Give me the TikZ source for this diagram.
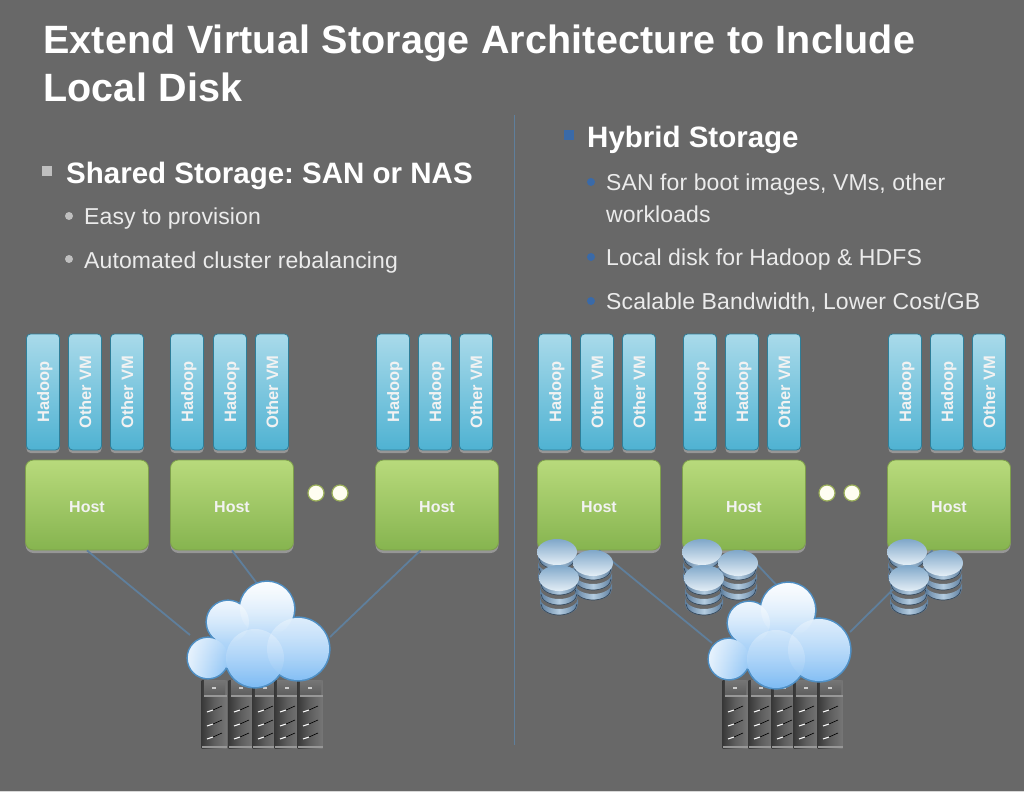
\documentclass[tikz,border=0pt]{standalone}
\usepackage{fontspec}
\setmainfont{Liberation Sans}
\usetikzlibrary{shadows,fadings}
\definecolor{slidebg}{HTML}{686868}
\definecolor{stripgrey}{HTML}{D8D8D8}
\definecolor{linkblue}{HTML}{5F7F9C}
\definecolor{bulletblue}{HTML}{3A6AA8}
\definecolor{shadowgrey}{HTML}{969696}
\definecolor{vmtop}{HTML}{A9DAEA}
\definecolor{vmlow}{HTML}{4FB2D2}
\definecolor{vmedge}{HTML}{2F7E98}
\definecolor{hosttop}{HTML}{B8DA7C}
\definecolor{hostlow}{HTML}{86B44F}
\definecolor{hostedge}{HTML}{7E9F4C}
\definecolor{dotedge}{HTML}{9BAF5A}
\definecolor{disktop}{HTML}{E4EEF6}
\definecolor{diskhead}{HTML}{7FA7C9}
\definecolor{diskpale}{HTML}{B4CCE0}
\definecolor{diskdark}{HTML}{5E7F9F}
\definecolor{diskgap}{HTML}{34475A}
\definecolor{rackdark}{HTML}{383838}
\definecolor{rackmid}{HTML}{5E5E5E}
\definecolor{racklow}{HTML}{767676}
\definecolor{rackpale}{HTML}{989898}
\definecolor{cloudedge}{HTML}{4F8FC4}
\definecolor{cloudhi}{HTML}{F4F9FE}
\definecolor{cloudmid}{HTML}{C6E0FA}
\definecolor{cloudlow}{HTML}{7DBBF4}
\tikzset{
  vmbox/.style={rounded corners=4pt,draw=vmedge,line width=0.8pt,rotate=90,minimum width=116pt,minimum height=33pt,inner sep=0pt,
    text height=12pt,text depth=0pt,top color=vmtop,bottom color=vmlow,text=white!95!black,font=\fontsize{16.5}{18}\selectfont\bfseries,
    general shadow={fill=shadowgrey,shadow xshift=0pt,shadow yshift=-3pt}},
  hostbox/.style={rounded corners=8pt,draw=hostedge,line width=0.8pt,minimum width=123pt,minimum height=90pt,inner sep=0pt,
    text height=14pt,text depth=0pt,top color=hosttop,bottom color=hostlow,text=white!95!black,font=\fontsize{16}{18}\selectfont\bfseries,
    general shadow={fill=shadowgrey,shadow xshift=0pt,shadow yshift=-3pt}},
  dotball/.style={circle,draw=dotedge,line width=1.2pt,fill=white!95!yellow,minimum size=16pt,inner sep=0pt},
  link/.style={draw=linkblue,line width=1.8pt},
  headtext/.style={anchor=base west,inner sep=0pt,text=white,font=\fontsize{39.5}{40}\selectfont\bfseries\addfontfeature{LetterSpace=0.5}},
  subhead/.style={anchor=base west,inner sep=0pt,text=white,font=\fontsize{29.5}{30}\selectfont\bfseries\frenchspacing},
  bodytext/.style={anchor=base west,inner sep=0pt,text=white!92!black,font=\fontsize{23}{26}\selectfont\addfontfeature{LetterSpace=0.5}},
  bigbullet/.style={minimum size=10pt,inner sep=0pt,fill=#1},
  smallbullet/.style={circle,minimum size=8pt,inner sep=0pt,fill=#1},
  disk/.pic={
    % three platters, lowest first
    \foreach \y in {20,10,0} {
      \shade[left color=diskdark,right color=diskdark,middle color=diskpale] (-19,\y) arc (180:0:19 and 11) -- ++(0,6) arc (0:180:19 and 11) -- cycle;
      \draw[diskgap,line width=0.7pt] (-18,\y+6) arc (180:0:18 and 11);
    }
    \shade[top color=diskhead,bottom color=disktop] (0,0) ellipse (20 and 13);
  },
  rack/.pic={
    \shade[left color=rackdark,right color=racklow,middle color=rackmid] (-12.5,0) rectangle (12.5,68);
    \shade[top color=racklow,bottom color=rackmid] (-10,0) rectangle (11,15);
    \fill[rackpale] (-10,15) rectangle (12.5,17);
    \fill[rackpale] (-12.5,66) rectangle (12.5,68);
    \foreach \y in {32,46,59} {
      \draw[white,line width=1pt] (-7,\y) -- (-1,\y-2);
      \draw[black,line width=0.6pt] (-1,\y-2) -- (8,\y-6);
    }
    \fill[white!80!black] (-2,7) rectangle (2,9);
  },
  cloud/.pic={
    % outline first, then one gradient over all the bumps
    \fill[cloudedge] (-50,18) circle (21.6) (-30,-18) circle (22.6) (9,-31) circle (28.6) (40,9) circle (32.6) (-3,18) circle (30.6) (0,12) ellipse (50 and 21);
    \shade[top color=cloudhi,middle color=cloudmid,bottom color=cloudlow] (-50,18) circle (20) (-30,-18) circle (21) (9,-31) circle (27) (40,9) circle (31) (-3,18) circle (29) (0,12) ellipse (50 and 20) (-5,5) ellipse (36 and 30);
    % soft highlights
    \fill[white,path fading=east,opacity=.75] (-50,18) circle (20);
    \fill[white,path fading=south,opacity=.5] (-30,-18) circle (21);
    \fill[white,path fading=south,opacity=.6] (9,-31) circle (27);
    \fill[white,path fading=south,opacity=.35] (40,9) circle (31);
    \fill[white,path fading=south,opacity=.3] (-3,18) circle (29);
  }
}
\begin{document}
\begin{tikzpicture}[x=1pt,y=-1pt]
\useasboundingbox (0,0) rectangle (1024,792);
\fill[slidebg] (0,0) rectangle (1024,792);
\fill[stripgrey] (0,790.7) rectangle (1024,792);

% Title
\node[headtext] (titleA) at (43,53) {Extend Virtual Storage Architecture to Include};
\node[headtext] (titleB) at (43,101) {Local Disk};

% Divider
\coordinate (divtop) at (514,115);
\coordinate (divbot) at (514,745);
\draw[linkblue,line width=1pt] (divtop) -- (divbot);

% Left text
\node[bigbullet=white!75!black] (bulletL) at (47,171) {};
\node[subhead] (headL) at (66,183) {Shared Storage: SAN or NAS};
\node[smallbullet=white!75!black] (dotLa) at (69,216) {};
\node[bodytext] (easy) at (84,224) {Easy to provision};
\node[smallbullet=white!75!black] (dotLb) at (69,259) {};
\node[bodytext] (auto) at (84,268) {Automated cluster rebalancing};

% Right text
\node[bigbullet=bulletblue] (bulletR) at (569,135) {};
\node[subhead] (headR) at (587,147) {Hybrid Storage};
\node[smallbullet=bulletblue] (dotRa) at (591,182) {};
\node[bodytext] (sanA) at (606,190) {SAN for boot images, VMs, other};
\node[bodytext] (sanB) at (606,222) {workloads};
\node[smallbullet=bulletblue] (dotRb) at (591,257) {};
\node[bodytext] (local) at (606,265) {Local disk for Hadoop \& HDFS};
\node[smallbullet=bulletblue] (dotRc) at (591,301) {};
\node[bodytext] (scale) at (606,309) {Scalable Bandwidth, Lower Cost/GB};

% Hosts
\foreach \name/\x in {hostA/87,hostB/232,hostC/437,hostD/599,hostE/744,hostF/949} {
  \node[hostbox] (\name) at (\x,505) {Host};
}

% VMs
\foreach \x/\label in {43/Hadoop,85/Other VM,127/Other VM,187/Hadoop,230/Hadoop,272/Other VM,393/Hadoop,435/Hadoop,476/Other VM,
                       555/Hadoop,597/Other VM,639/Other VM,700/Hadoop,742/Hadoop,784/Other VM,905/Hadoop,947/Hadoop,989/Other VM} {
  \node[vmbox] (vm\x) at (\x,392) {\label};
}

% Dots between hosts
\foreach \x in {316,340,827,852} {
  \node[dotball] (dot\x) at (\x,493) {};
}

% Links to the clouds
\coordinate (cloudLa) at (190,635);
\coordinate (cloudLb) at (262,590);
\coordinate (cloudLc) at (330,637);
\coordinate (cloudRa) at (712,643);
\coordinate (cloudRb) at (783,592);
\coordinate (cloudRc) at (850,632);
\draw[link] (hostA.south) -- (cloudLa);
\draw[link] (hostB.south) -- (cloudLb);
\draw[link] (hostC.-110) -- (cloudLc);
\draw[link] (hostD.south) -- (cloudRa);
\draw[link] (hostE.south) -- (cloudRb);
\draw[link] (hostF.-110) -- (cloudRc);

% Disks
\foreach \x in {537,682,887} {
  \pic at (\x+20,552) {disk};
  \pic at (\x+56,563) {disk};
  \pic at (\x+22,578) {disk};
}

% Racks and clouds
\foreach \x in {214,241,265,287,310,735,761,784,806,830} {
  \pic at (\x,680) {rack};
}
\pic at (258,640) {cloud};
\pic at (779,641) {cloud};
\end{tikzpicture}
\end{document}
